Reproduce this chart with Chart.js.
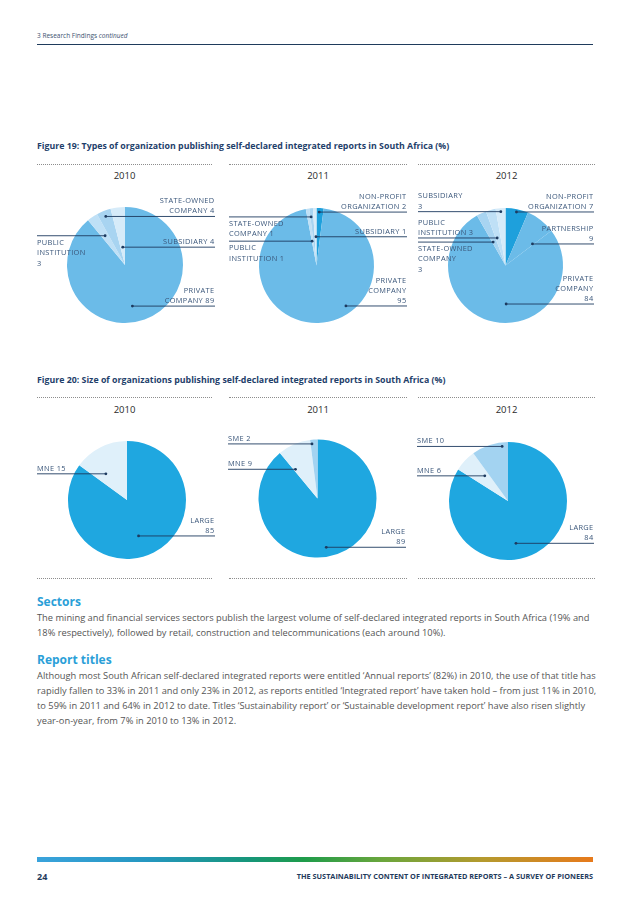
<!DOCTYPE html>
<html>
<head>
<meta charset="utf-8">
<script src="https://cdn.jsdelivr.net/npm/chart.js@4/dist/chart.umd.min.js"></script>
<style>
  html, body { margin: 0; padding: 0; background: #fff; }
  body { width: 638px; height: 903px; position: relative; overflow: hidden; font-family: "Open Sans", sans-serif; }
  .abs { position: absolute; }
  .hdr { left: 37px; top: 31px; font-size: 6.5px; color: #3c5270; }
  .hdr i { font-style: italic; }
  .hdr-line { left: 37px; top: 44px; width: 556px; height: 0; border-top: 1px solid #1f3b5c; }
  .fig-title { left: 37px; font-size: 8.8px; font-weight: 700; color: #1f3f6b; white-space: nowrap; }
  .dots { height: 0; border-top: 1px dotted #8d8d8d; }
  .year { font-size: 9.5px; color: #2a2a2a; text-align: center; }
  .panel { position: absolute; }
  h2 { position: absolute; left: 37px; margin: 0; font-size: 12px; font-weight: 700; color: #2b9fd8; }
  .body { left: 37px; font-size: 9.3px; line-height: 15px; color: #555; white-space: nowrap; }
  .bar { left: 37px; top: 857px; width: 556px; height: 5px;
         background: linear-gradient(to right, #3aa3dc 0%, #2597c0 20%, #16967a 38%, #1e9c4a 48%, #6aa63c 62%, #b49a2e 80%, #e77a1c 100%); }
  .pg { left: 37px; top: 870px; font-size: 9px; font-weight: 700; color: #1f3b5c; }
  .foot { right: 45px; top: 871px; font-size: 7.3px; font-weight: 700; color: #1f3b5c; white-space: nowrap; }
</style>
</head>
<body>
<div class="abs hdr">3 Research Findings <i>continued</i></div>
<div class="abs hdr-line"></div>

<div class="abs fig-title" style="top:140px">Figure 19: Types of organization publishing self-declared integrated reports in South Africa (%)</div>
<div class="abs dots" style="left:37px;top:164px;width:175px"></div>
<div class="abs dots" style="left:229px;top:164px;width:178px"></div>
<div class="abs dots" style="left:418px;top:164px;width:177px"></div>
<div class="abs year" style="left:37px;top:169px;width:175px">2010</div>
<div class="abs year" style="left:229px;top:169px;width:178px">2011</div>
<div class="abs year" style="left:418px;top:169px;width:177px">2012</div>
<div class="panel" id="p19a"><canvas id="c19a"></canvas></div>
<div class="panel" id="p19b"><canvas id="c19b"></canvas></div>
<div class="panel" id="p19c"><canvas id="c19c"></canvas></div>

<div class="abs fig-title" style="top:374px">Figure 20: Size of organizations publishing self-declared integrated reports in South Africa (%)</div>
<div class="abs dots" style="left:37px;top:397px;width:175px"></div>
<div class="abs dots" style="left:229px;top:397px;width:178px"></div>
<div class="abs dots" style="left:418px;top:397px;width:177px"></div>
<div class="abs year" style="left:37px;top:403px;width:175px">2010</div>
<div class="abs year" style="left:229px;top:403px;width:178px">2011</div>
<div class="abs year" style="left:418px;top:403px;width:177px">2012</div>
<div class="panel" id="p20a"><canvas id="c20a"></canvas></div>
<div class="panel" id="p20b"><canvas id="c20b"></canvas></div>
<div class="panel" id="p20c"><canvas id="c20c"></canvas></div>
<div class="abs dots" style="left:37px;top:578px;width:175px"></div>
<div class="abs dots" style="left:229px;top:578px;width:178px"></div>
<div class="abs dots" style="left:418px;top:578px;width:177px"></div>

<h2 style="top:593px">Sectors</h2>
<div class="abs body" style="top:610px">The mining and financial services sectors publish the largest volume of self-declared integrated reports in South Africa (19% and<br>18% respectively), followed by retail, construction and telecommunications (each around 10%).</div>
<h2 style="top:651px">Report titles</h2>
<div class="abs body" style="top:668px">Although most South African self-declared integrated reports were entitled ‘Annual reports’ (82%) in 2010, the use of that title has<br>rapidly fallen to 33% in 2011 and only 23% in 2012, as reports entitled ‘Integrated report’ have taken hold – from just 11% in 2010,<br>to 59% in 2011 and 64% in 2012 to date. Titles ‘Sustainability report’ or ‘Sustainable development report’ have also risen slightly<br>year-on-year, from 7% in 2010 to 13% in 2012.</div>

<div class="abs bar"></div>
<div class="abs pg">24</div>
<div class="abs foot">THE SUSTAINABILITY CONTENT OF INTEGRATED REPORTS – A SURVEY OF PIONEERS</div>

<script>
// Figure 19 - tipos de organizacao
const typeCats2010 = ['Private company', 'Public institution', 'State-owned company', 'Subsidiary'];
const typeVals2010 = [89, 3, 4, 4];
const typeCats2011 = ['Non-profit organization', 'Private company', 'Public institution', 'State-owned company', 'Subsidiary'];
const typeVals2011 = [2, 95, 1, 1, 1];
const typeCats2012 = ['Non-profit organization', 'Partnership', 'Private company', 'State-owned company', 'Public institution', 'Subsidiary'];
const typeVals2012 = [7, 9, 84, 3, 3, 3];

// Figure 20 - tamanho
const sizeCats2010 = ['Large', 'MNE'];
const sizeVals2010 = [85, 15];
const sizeCats2011 = ['Large', 'MNE', 'SME'];
const sizeVals2011 = [89, 9, 2];
const sizeCats2012 = ['Large', 'MNE', 'SME'];
const sizeVals2012 = [84, 6, 10];

const typeColors = {
    'Private company': '#6bbbe8',
    'Partnership': '#6bbbe8',
    'Non-profit organization': '#1ea0dc',
    'Public institution': '#bfe0f6',
    'State-owned company': '#a8d4f1',
    'Subsidiary': '#d6ebf9'
};
const sizeColors = { 'Large': '#1fa7e0', 'MNE': '#dff0fa', 'SME': '#a3d3f1' };

// Rotulos: side, texto acima/abaixo da linha, quebras e ponto [fracao do angulo, fracao do raio]
const leaderLabels = {
    plugin: {
        id: 'leaderLabels',
        afterDatasetsDraw(chart, args, opts) {
            const ctx = chart.ctx;
            const meta = chart.getDatasetMeta(0);
            const cats = chart.data.labels;
            const vals = chart.data.datasets[0].data;
            ctx.save();
            ctx.font = '7.4px "Open Sans"';
            ctx.letterSpacing = '0.35px';
            (opts.items || []).forEach(it => {
                const arc = meta.data[it.i];
                const a = arc.startAngle + it.at[0] * (arc.endAngle - arc.startAngle);
                const px = arc.x + Math.cos(a) * it.at[1] * arc.outerRadius;
                const py = arc.y + Math.sin(a) * it.at[1] * arc.outerRadius;
                const edge = it.side === 'left' ? 0 : chart.width;

                ctx.strokeStyle = '#1d3a5f';
                ctx.lineWidth = 0.9;
                ctx.beginPath();
                ctx.moveTo(edge, py);
                ctx.lineTo(px, py);
                ctx.stroke();
                ctx.fillStyle = '#1d3a5f';
                ctx.beginPath();
                ctx.arc(px, py, 1.4, 0, Math.PI * 2);
                ctx.fill();

                const words = (cats[it.i].toUpperCase() + ' ' + vals[it.i]).split(' ');
                const lines = [];
                let cur = [];
                words.forEach((w, k) => {
                    cur.push(w);
                    if ((it.breaks || []).includes(k)) { lines.push(cur.join(' ')); cur = []; }
                });
                if (cur.length) lines.push(cur.join(' '));

                ctx.fillStyle = '#3a567a';
                ctx.textAlign = it.side === 'left' ? 'left' : 'right';
                ctx.textBaseline = 'alphabetic';
                const tx = it.side === 'left' ? 0 : chart.width - 0.5;
                lines.forEach((ln, k) => {
                    const y = it.above
                        ? py - 3 - (lines.length - 1 - k) * 10.2
                        : py + 9 + k * 10.4;
                    ctx.fillText(ln, tx, y);
                });
            });
            ctx.restore();
        }
    }
};

function makePie(id, box, center, r, cats, vals, colors, items) {
    const panel = document.getElementById('p' + id);
    panel.style.left = box.x + 'px';
    panel.style.top = box.y + 'px';
    panel.style.width = box.w + 'px';
    panel.style.height = box.h + 'px';
    const cx = center[0] - box.x;
    const cy = center[1] - box.y;
    new Chart(document.getElementById('c' + id), {
        type: 'pie',
        data: {
            labels: cats,
            datasets: [{
                data: vals,
                backgroundColor: cats.map(c => colors[c]),
                borderWidth: 0,
                hoverOffset: 0
            }]
        },
        plugins: [leaderLabels.plugin],
        options: {
            responsive: true,
            maintainAspectRatio: false,
            animation: false,
            events: [],
            layout: {
                padding: {
                    left: cx - r,
                    right: box.w - cx - r,
                    top: cy - r,
                    bottom: box.h - cy - r
                }
            },
            plugins: {
                legend: { display: false },
                tooltip: { enabled: false },
                leaderLabels: { items: items }
            }
        }
    });
}

makePie('19a', { x: 37, y: 186, w: 178, h: 146 }, [125, 265], 58, typeCats2010, typeVals2010, typeColors, [
    { i: 0, side: 'right', above: true, breaks: [0], at: [0.53, 0.72] },
    { i: 1, side: 'left', above: false, breaks: [0, 1], at: [0.5, 0.61] },
    { i: 2, side: 'right', above: true, breaks: [0], at: [0.5, 0.9] },
    { i: 3, side: 'right', above: true, breaks: [], at: [0.5, 0.31] }
]);
makePie('19b', { x: 229, y: 186, w: 178, h: 146 }, [316.5, 265.5], 57.5, typeCats2011, typeVals2011, typeColors, [
    { i: 0, side: 'right', above: true, breaks: [0], at: [0.4, 0.93] },
    { i: 1, side: 'right', above: true, breaks: [0, 1], at: [0.4, 0.87] },
    { i: 2, side: 'left', above: false, breaks: [0], at: [0.15, 0.43] },
    { i: 3, side: 'left', above: false, breaks: [0], at: [0.25, 0.85] },
    { i: 4, side: 'right', above: true, breaks: [], at: [0.7, 0.5] }
]);
makePie('19c', { x: 418, y: 186, w: 176, h: 146 }, [505.5, 265.5], 57.5, typeCats2012, typeVals2012, typeColors, [
    { i: 0, side: 'right', above: true, breaks: [0], at: [0.5, 0.95] },
    { i: 1, side: 'right', above: true, breaks: [0], at: [0.95, 0.6] },
    { i: 2, side: 'right', above: true, breaks: [0, 1], at: [0.455, 0.67] },
    { i: 3, side: 'left', above: false, breaks: [0, 1], at: [0.2, 0.46] },
    { i: 4, side: 'left', above: true, breaks: [0], at: [0.3, 0.5] },
    { i: 5, side: 'left', above: true, breaks: [0], at: [0.5, 0.94] }
]);

makePie('20a', { x: 37, y: 428, w: 178, h: 140 }, [127, 500], 59, sizeCats2010, sizeVals2010, sizeColors, [
    { i: 0, side: 'right', above: true, breaks: [0], at: [0.53, 0.64] },
    { i: 1, side: 'left', above: true, breaks: [], at: [0.28, 0.57] }
]);
makePie('20b', { x: 228, y: 428, w: 178, h: 140 }, [317.5, 498.5], 59, sizeCats2011, sizeVals2011, sizeColors, [
    { i: 0, side: 'right', above: true, breaks: [0], at: [0.53, 0.84] },
    { i: 1, side: 'left', above: true, breaks: [], at: [0.08, 0.62] },
    { i: 2, side: 'left', above: true, breaks: [], at: [0.2, 0.93] }
]);
makePie('20c', { x: 417, y: 428, w: 177, h: 140 }, [508, 501], 59, sizeCats2012, sizeVals2012, sizeColors, [
    { i: 0, side: 'right', above: true, breaks: [0], at: [0.56, 0.73] },
    { i: 1, side: 'left', above: true, breaks: [], at: [0.69, 0.58] },
    { i: 2, side: 'left', above: true, breaks: [], at: [0.83, 0.93] }
]);
</script>
</body>
</html>
